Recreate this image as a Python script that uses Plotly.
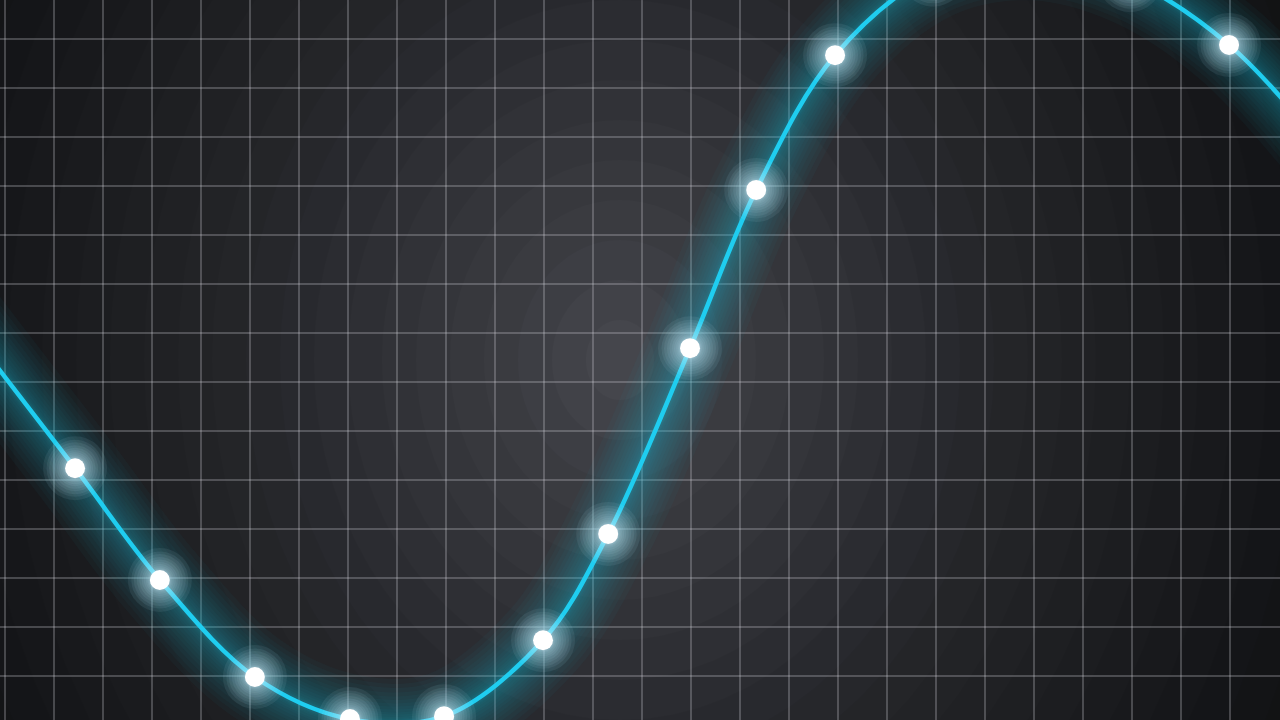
import math
import plotly.graph_objects as go

# Data (in grid-cell units)
x_vals = [-1.00, 1.43, 3.16, 5.10, 7.04, 8.96, 10.98, 12.31, 13.98, 15.33, 16.94, 18.94, 20.94, 22.96, 24.98, 27.04]
y_vals = [7.40, 4.24, 1.96, -0.02, -0.88, -0.82, 0.73, 2.90, 6.69, 9.92, 12.67, 14.31, 14.71, 14.20, 12.88, 10.63]

X_RANGE = [-0.102, 26.02]
Y_RANGE = [-0.898, 13.796]
W, H = 1280, 720

fig = go.Figure()

# soft glow of the curve (denser near the line)
glow_widths = [int(8 + 82 * (k / 14) ** 1.6) for k in range(14, -1, -1)]
for w in glow_widths:
    fig.add_trace(go.Scatter(x=x_vals, y=y_vals, mode="lines",
                             line=dict(color="rgba(40,190,225,0.035)", width=w, shape="spline", smoothing=1.0),
                             hoverinfo="skip", showlegend=False))
# main curve
fig.add_trace(go.Scatter(x=x_vals, y=y_vals, mode="lines",
                         line=dict(color="#1fcdf0", width=4.5, shape="spline", smoothing=1.0),
                         hoverinfo="skip", showlegend=False))
# marker glows
halo_sizes = [int(22 + 42 * (k / 10) ** 1.5) for k in range(10, -1, -1)]
for s in halo_sizes:
    fig.add_trace(go.Scatter(x=x_vals, y=y_vals, mode="markers",
                             marker=dict(color="rgba(215,245,255,0.075)", size=s, line=dict(width=0)),
                             hoverinfo="skip", showlegend=False))
fig.add_trace(go.Scatter(x=x_vals, y=y_vals, mode="markers",
                         marker=dict(color="#ffffff", size=20, line=dict(width=0)),
                         hoverinfo="skip", showlegend=False))

# vignette: stacked dark rectangles with elliptical holes, drawn between grid and traces
shapes = []
cxp, cyp = 620.0, 360.0
rx_base, ry_base = 680.0, 800.0
dr = 0.05
N = 30
for i in range(1, N + 1):
    r = i * dr
    pts = []
    for k in range(72, -1, -1):
        t = 2 * math.pi * k / 72
        px = cxp + rx_base * r * math.cos(t)
        py = cyp + ry_base * r * math.sin(t)
        pts.append((px / W, 1 - py / H))
    path = "M -1 -1 L 2 -1 L 2 2 L -1 2 Z "
    path += "M " + " L ".join(f"{a:.4f} {b:.4f}" for a, b in pts) + " Z"
    shapes.append(dict(type="path", xref="paper", yref="paper", path=path,
                       fillcolor="rgba(4,4,7,0.049)", line=dict(width=0), layer="between"))

fig.update_layout(
    width=W, height=H,
    margin=dict(l=0, r=0, t=0, b=0),
    paper_bgcolor="#45464c",
    plot_bgcolor="#45464c",
    shapes=shapes,
    xaxis=dict(range=X_RANGE, dtick=1, tick0=0, showticklabels=False, ticks="",
               showgrid=True, gridcolor="rgba(215,215,225,0.26)", gridwidth=1.5,
               zeroline=False, showline=False, fixedrange=True),
    yaxis=dict(range=Y_RANGE, dtick=1, tick0=0, showticklabels=False, ticks="",
               showgrid=True, gridcolor="rgba(215,215,225,0.26)", gridwidth=1.5,
               zeroline=False, showline=False, fixedrange=True),
)

fig.write_html("out.html", config={"displayModeBar": False})

with open("out.html", "r", encoding="utf-8") as f:
    html = f.read()
html = html.replace("<head>", "<head><style>html,body{margin:0;padding:0;overflow:hidden;background:#151517;}</style>", 1)
with open("out.html", "w", encoding="utf-8") as f:
    f.write(html)
